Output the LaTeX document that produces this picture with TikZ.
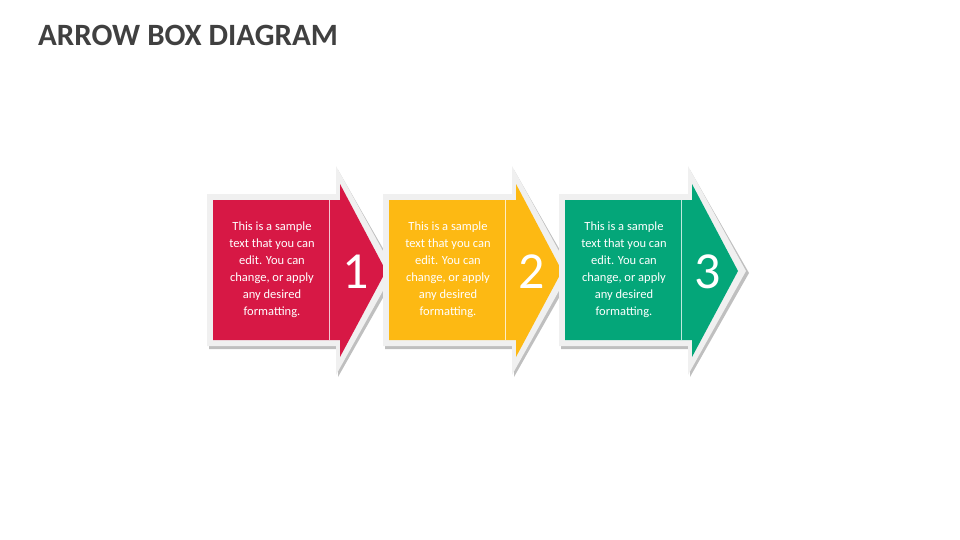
\documentclass[tikz,border=0pt]{standalone}
\usepackage{fontspec}
\setmainfont{Carlito}
\definecolor{cA}{HTML}{D71845}
\definecolor{cB}{HTML}{FDB913}
\definecolor{cC}{HTML}{04A679}
\definecolor{ttl}{HTML}{404040}
\begin{document}
\begin{tikzpicture}[x=1pt,y=-1pt,
  txt/.style={text=white,align=center,font=\fontsize{12.5}{17}\selectfont,inner sep=0pt},
  num/.style={text=white,font=\fontsize{52}{52}\selectfont,inner sep=0pt}]
\useasboundingbox (0,0) rectangle (960,540);
\node[anchor=west,text=ttl,font=\fontsize{31}{31}\selectfont\bfseries,inner sep=0pt] (title) at (38,35) {ARROW BOX DIAGRAM};
\foreach \i/\c/\n in {0/cA/1,1/cB/2,2/cC/3}{
  \begin{scope}[xshift=\i*176]
  \fill[black!25] (209,197)--(338,197)--(338,170)--(397,273)--(338,377)--(338,349)--(209,349)--cycle;
  \fill[gray!12] (207,194)--(336,194)--(336,166)--(394,271)--(336,375)--(336,346)--(207,346)--cycle;
  \fill[\c] (213,200)--(340,200)--(340,184)--(386,271)--(340,357)--(340,340)--(213,340)--cycle;
  \draw[white!75!\c,line width=0.7] (329,200)--(329,340);
  \node[txt] (t\n) at (272,270) {This is a sample\\text that you can\\edit. You can\\change, or apply\\any desired\\formatting.};
  \node[num] (n\n) at (356,272) {\n};
  \end{scope}}
\end{tikzpicture}
\end{document}
